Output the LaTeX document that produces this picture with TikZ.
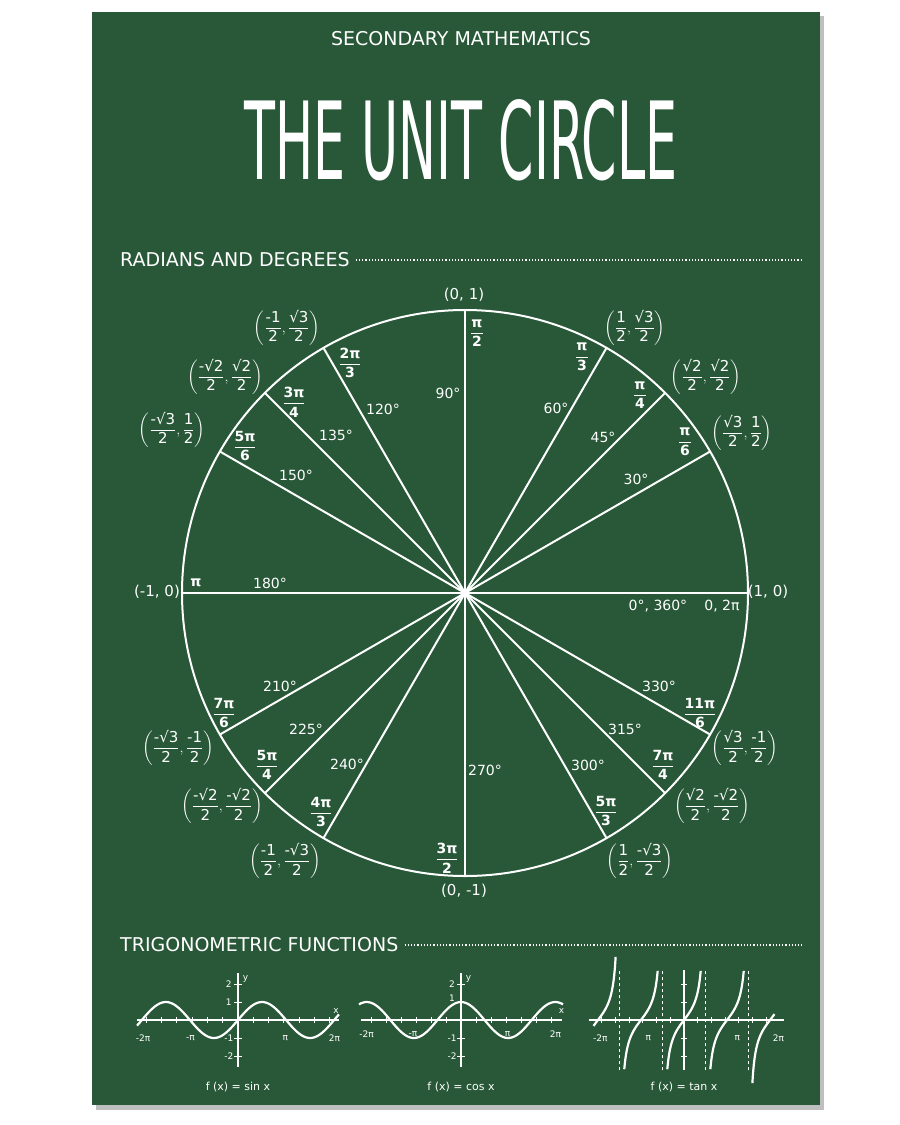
\documentclass[tikz,border=0pt]{standalone}
\usepackage{amsmath}
\usepackage{fontspec}
\setmainfont{DejaVu Sans}
\usetikzlibrary{calc}
\definecolor{board}{RGB}{40,88,56}
\newcommand{\fr}[2]{\ensuremath{\dfrac{\text{#1}}{\text{#2}}}}
\newcommand{\pp}[4]{\ensuremath{\left(\fr{#1}{#2},\fr{#3}{#4}\right)}}
\tikzset{
 lab/.style={text=white,font=\fontsize{14}{15}\selectfont,inner sep=0pt},
 rad/.style={text=white,font=\fontsize{14}{15}\selectfont\bfseries,inner sep=0pt},
 crd/.style={text=white,font=\fontsize{15}{16}\selectfont,inner sep=0pt},
 ln/.style={white,line width=2pt},
 gl/.style={text=white,font=\fontsize{9}{10}\selectfont,inner sep=0pt},
 ax/.style={white,line width=1.6pt},
 cv/.style={white,line width=2.2pt},
}
\begin{document}
\begin{tikzpicture}[x=1pt,y=-1pt]
\useasboundingbox (0,0) rectangle (900,1125);
\fill[white] (0,0) rectangle (900,1125);
\fill[black!25] (96,16) rectangle (824,1110);
\fill[board] (92,12) rectangle (820,1105);
% header
\node[text=white,font=\fontsize{19}{20}\selectfont] (sub) at (461,39) {SECONDARY MATHEMATICS};
\node[text=white,inner sep=0pt] (title) at (461,140) {\resizebox{433pt}{80pt}{THE UNIT CIRCLE}};
\node[text=white,font=\fontsize{19}{20}\selectfont,anchor=west,inner sep=0pt] (h1) at (120,260) {RADIANS AND DEGREES};
\coordinate (d1) at (802,260);
\draw[white,line width=1.2pt,dotted] ([xshift=6pt]h1.east) -- (d1);
% circle
\coordinate (O) at (465,593);
\draw[ln] (O) circle (283);
\foreach \a in {0,30,45,60,90,120,135,150}
  \draw[ln] ($(O)+(\a:283)$) -- ($(O)+(\a+180:283)$);
% labels
\node[crd] (c90) at (464,295) {(0, 1)};
\node[rad] (r90) at (477,333) {\fr{π}{2}};
\node[lab] (d90) at (448,393) {90°};
\node[rad] (r120) at (350,363) {\fr{2π}{3}};
\node[lab] (d120) at (383,409) {120°};
\node[crd] (c120) at (287,328) {\pp{-1}{2}{√3}{2}};
\node[rad] (r135) at (294,402) {\fr{3π}{4}};
\node[lab] (d135) at (336,435) {135°};
\node[crd] (c135) at (225,377) {\pp{-√2}{2}{√2}{2}};
\node[rad] (r150) at (245,446) {\fr{5π}{6}};
\node[lab] (d150) at (296,475) {150°};
\node[crd] (c150) at (172,430) {\pp{-√3}{2}{1}{2}};
\node[rad] (r180) at (196,583) {π};
\node[lab] (d180) at (270,583) {180°};
\node[crd] (c180) at (157,592) {(-1, 0)};
\node[rad] (r60) at (582,357) {\fr{π}{3}};
\node[lab] (d60) at (556,408) {60°};
\node[crd] (c60) at (635,328) {\pp{1}{2}{√3}{2}};
\node[rad] (r45) at (640,395) {\fr{π}{4}};
\node[lab] (d45) at (603,437) {45°};
\node[crd] (c45) at (706,377) {\pp{√2}{2}{√2}{2}};
\node[rad] (r30) at (685,442) {\fr{π}{6}};
\node[lab] (d30) at (636,479) {30°};
\node[crd] (c30) at (742,433) {\pp{√3}{2}{1}{2}};
\node[crd] (c0) at (768,592) {(1, 0)};
\node[lab] (d0) at (658,606) {0°, 360°};
\node[lab] (r0) at (722,606) {0, 2π};
\node[rad] (r210) at (224,713) {\fr{7π}{6}};
\node[lab] (d210) at (280,686) {210°};
\node[crd] (c210) at (178,748) {\pp{-√3}{2}{-1}{2}};
\node[rad] (r225) at (267,765) {\fr{5π}{4}};
\node[lab] (d225) at (306,729) {225°};
\node[crd] (c225) at (222,806) {\pp{-√2}{2}{-√2}{2}};
\node[rad] (r240) at (321,812) {\fr{4π}{3}};
\node[lab] (d240) at (347,764) {240°};
\node[crd] (c240) at (285,861) {\pp{-1}{2}{-√3}{2}};
\node[rad] (r270) at (447,858) {\fr{3π}{2}};
\node[lab] (d270) at (485,770) {270°};
\node[crd] (c270) at (464,891) {(0, -1)};
\node[rad] (r300) at (606,811) {\fr{5π}{3}};
\node[lab] (d300) at (588,765) {300°};
\node[crd] (c300) at (640,861) {\pp{1}{2}{-√3}{2}};
\node[rad] (r315) at (663,765) {\fr{7π}{4}};
\node[lab] (d315) at (625,729) {315°};
\node[crd] (c315) at (712,806) {\pp{√2}{2}{-√2}{2}};
\node[rad] (r330) at (700,713) {\fr{11π}{6}};
\node[lab] (d330) at (659,686) {330°};
\node[crd] (c330) at (745,748) {\pp{√3}{2}{-1}{2}};
% trig header
\node[text=white,font=\fontsize{19}{20}\selectfont,anchor=west,inner sep=0pt] (h2) at (120,945) {TRIGONOMETRIC FUNCTIONS};
\coordinate (d2) at (802,945);
\draw[white,line width=1.2pt,dotted] ([xshift=6pt]h2.east) -- (d2);
% sin
\begin{scope}[shift={(238,1020)},x=15.3pt,y=18pt]
 \draw[ax] (-6.6,0) -- (6.6,0); \draw[ax] (0,-2.6) -- (0,2.6);
 \foreach \t in {-6,-5,...,6} \draw[ax,line width=1pt] (\t,-0.14) -- (\t,0.14);
 \foreach \t in {-2,-1,1,2} \draw[ax,line width=1pt] (-0.25,\t) -- (0.25,\t);
 \draw[cv] plot[domain=-6.6:6.6,samples=100,smooth] (\x,{sin(\x r)});
 \node[gl] at (-0.6,2) {2}; \node[gl] at (-0.6,1) {1};
 \node[gl] at (-0.6,-1) {-1}; \node[gl] at (-0.6,-2) {-2};
 \node[gl] at (0.5,2.3) {y}; \node[gl] at (6.4,0.5) {x};
 \node[gl] at (-6.2,-1) {-2π}; \node[gl] at (-3.1,-1) {-π};
 \node[gl] at (3.1,-1) {π}; \node[gl] at (6.3,-1) {2π};
 \node[gl,font=\fontsize{11}{12}\selectfont] at (0,-3.7) {f (x) = sin x};
\end{scope}
% cos
\begin{scope}[shift={(461,1020)},x=15pt,y=18pt]
 \draw[ax] (-6.7,0) -- (6.7,0); \draw[ax] (0,-2.6) -- (0,2.6);
 \foreach \t in {-6,-5,...,6} \draw[ax,line width=1pt] (\t,-0.14) -- (\t,0.14);
 \foreach \t in {-2,-1,1,2} \draw[ax,line width=1pt] (-0.25,\t) -- (0.25,\t);
 \draw[cv] plot[domain=-6.8:6.8,samples=100,smooth] (\x,{cos(\x r)});
 \node[gl] at (-0.6,2) {2}; \node[gl] at (-0.6,1.2) {1};
 \node[gl] at (-0.6,-1) {-1}; \node[gl] at (-0.6,-2) {-2};
 \node[gl] at (0.5,2.3) {y}; \node[gl] at (6.7,0.5) {x};
 \node[gl] at (-6.3,-0.8) {-2π}; \node[gl] at (-3.2,-0.8) {-π};
 \node[gl] at (3.1,-0.8) {π}; \node[gl] at (6.3,-0.8) {2π};
 \node[gl,font=\fontsize{11}{12}\selectfont] at (0,-3.7) {f (x) = cos x};
\end{scope}
% tan
\begin{scope}[shift={(684,1020)},x=13.7pt,y=18pt]
 \draw[ax] (-6.9,0) -- (7.3,0);
 \foreach \t in {-6,-5,...,6} \draw[ax,line width=1pt] (\t,-0.14) -- (\t,0.14);
 \foreach \a in {-4.712,-1.571,1.571,4.712}
   \draw[white,line width=1.3pt,dashed] (\a,-2.8) -- (\a,2.8);
 \draw[ax] (0,-2.8) -- (0,2.8);
 \foreach \t in {-2,-1,1,2} \draw[ax,line width=1pt] (-0.2,\t) -- (0.2,\t);
 \foreach \c in {-3.1416,0,3.1416}
   \draw[cv] plot[domain=\c-1.22:\c+1.22,samples=50,smooth] (\x,{tan(\x r)});
 \draw[cv] plot[domain=-6.6:-4.99,samples=30,smooth] (\x,{tan(\x r)});
 \draw[cv] plot[domain=4.99:6.6,samples=30,smooth] (\x,{tan(\x r)});
 \node[gl] at (-6.1,-1) {-2π}; \node[gl] at (-2.6,-1) {π};
 \node[gl] at (3.9,-1) {π}; \node[gl] at (6.9,-1) {2π};
 \node[gl,font=\fontsize{11}{12}\selectfont] at (0,-3.7) {f (x) = tan x};
\end{scope}
\end{tikzpicture}
\end{document}
